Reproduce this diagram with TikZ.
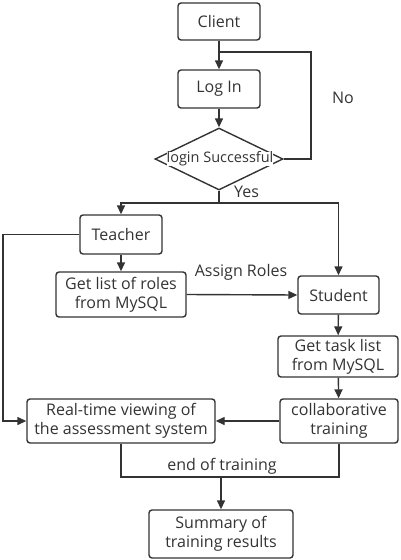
\documentclass[tikz,border=0pt]{standalone}
\usepackage{fontspec}
\setmainfont{Open Sans}
\usetikzlibrary{shapes.geometric,arrows.meta}
\definecolor{ink}{HTML}{333333}
\tikzset{
  box/.style={draw=ink, line width=1.4pt, rounded corners=3pt, align=center,
    inner sep=0pt, text=ink, font=\fontsize{16}{19}\selectfont},
  conn/.style={draw=ink, line width=1.4pt},
  arr/.style={conn, -{Triangle[length=9pt,width=8pt]}},
  lbl/.style={text=ink, font=\fontsize{16}{19}\selectfont, inner sep=0pt}
}
\begin{document}
\begin{tikzpicture}[x=1pt,y=-1pt]
\useasboundingbox (0,0) rectangle (400,560);
\node[box, minimum width=82pt, minimum height=37pt] (client) at (219,21.5) {Client};
\node[box, minimum width=82pt, minimum height=38pt] (login) at (219,89) {Log In};
\node[draw=ink, line width=1.4pt, diamond, minimum width=128pt, minimum height=62pt, inner sep=0pt] (dec) at (219,159) {};
\node[lbl, fill=white, font=\fontsize{14.5}{16}\selectfont] (dectxt) at (220,159) {login Successful};
\node[box, minimum width=82pt, minimum height=39pt] (teacher) at (121,234.5) {Teacher};
\node[box, minimum width=130pt, minimum height=45pt] (roles) at (121,294.5) {Get list of roles\\from MySQL};
\node[box, minimum width=81pt, minimum height=38pt] (student) at (338.5,295) {Student};
\node[box, minimum width=120pt, minimum height=41pt] (task) at (338,356.5) {Get task list\\from MySQL};
\node[box, minimum width=118pt, minimum height=44pt] (collab) at (339,421) {collaborative\\training};
\node[box, minimum width=188pt, minimum height=44pt] (real) at (121,421) {Real-time viewing of\\the assessment system};
\node[box, minimum width=144pt, minimum height=48pt] (summary) at (221,534) {Summary of\\training results};

\coordinate (loopc) at (311,52);
\coordinate (yj) at (219,203);
\coordinate (tl) at (3,234.5);
\coordinate (ej) at (221,477);

\draw[arr] (client) -- (login);
\draw[arr] (login) -- (dec);
\draw[conn] (dec.east) -| (loopc) -- (loopc -| client.south);
\node[lbl] (no) at (343,98) {No};
\draw[conn] (dec.south) -- (yj);
\node[lbl, anchor=west] (yes) at (234,192) {Yes};
\draw[arr] (yj) -| (teacher.north);
\draw[arr] (yj) -| (student.north);
\draw[arr] (teacher) -- (roles);
\draw[arr] (teacher.west) -- (tl) |- (real.west);
\draw[arr] (roles.east) -- (student.west);
\node[lbl] (assign) at (241,272) {Assign Roles};
\draw[arr] (student) -- (task);
\draw[arr] (task) -- (collab);
\draw[arr] (collab.west) -- (real.east);
\draw[conn] (real.south) |- (ej) -| (collab.south);
\draw[arr] (ej) -- (summary.north);
\node[lbl] (end) at (222,466) {end of training};
\end{tikzpicture}
\end{document}
